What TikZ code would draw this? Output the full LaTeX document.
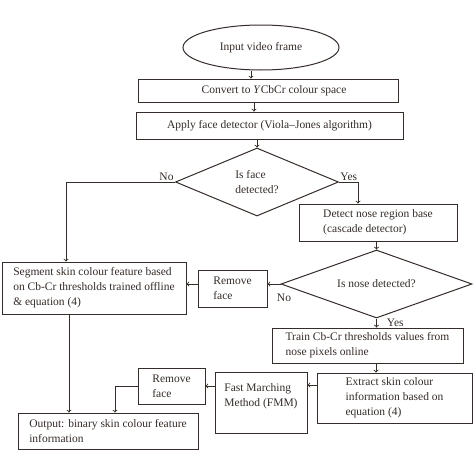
\documentclass[tikz,border=0pt]{standalone}
\usepackage{fontspec}
\setmainfont{Liberation Serif}
\usetikzlibrary{calc,shapes.geometric}
\definecolor{ink}{HTML}{352D29}
\tikzset{
  box/.style={draw=ink, text=ink, line width=1pt, rectangle, align=left, inner sep=2pt, font=\fontsize{11.5}{15}\selectfont},
  decide/.style={draw=ink, text=ink, line width=1pt, diamond, aspect=2.4, inner sep=0pt, align=left, font=\fontsize{11.5}{15}\selectfont},
  flow/.style={draw=ink, line width=0.9pt, ->},
  tag/.style={text=ink, inner sep=1pt, font=\fontsize{11.5}{13}\selectfont}
}

\begin{document}
\begin{tikzpicture}[x=1pt, y=-1pt]
        \useasboundingbox[fill=white] (0,0) rectangle (474,474);
        %
        \node[box, ellipse, minimum width=156pt, minimum height=45pt] (start) at (261,47.5) {Input video frame};
        \node[box, minimum width=260pt, minimum height=23pt] (conv) at (268,90.5) {\hspace*{12pt}Convert to \textit{Y}CbCr colour space};
        \node[box, minimum width=267pt, minimum height=27pt] (face) at (269.5,125.5) {Apply face detector (Viola–Jones algorithm)};
        \node[decide, minimum width=163pt, minimum height=68pt] (isface) at (257,182) {Is face\\detected?};
        \node[box, minimum width=158pt, minimum height=37pt] (nose) at (378,222.5) {Detect nose region base\\(cascade detector)};
        \node[decide, minimum width=191pt, minimum height=68pt] (isnose) at (376.5,284) {Is nose detected?};
        \node[box, minimum width=69pt, minimum height=37pt] (remA) at (232.5,288.5) {Remove\\face};
        \node[box, minimum width=184pt, minimum height=52pt] (seg) at (94,288) {Segment skin colour feature based\\on Cb-Cr thresholds trained offline\\\& equation (4)};
        \node[box, minimum width=191pt, minimum height=35pt] (train) at (367.5,345.5) {Train Cb-Cr thresholds values from\\nose pixels online};
        \node[box, minimum width=155pt, minimum height=50pt] (extract) at (394.5,398) {Extract skin colour\\information based on\\equation (4)};
        \node[box, minimum width=92pt, minimum height=61pt] (fmm) at (261,402.5) {Fast Marching\\Method (FMM)\\\mbox{}};
        \node[box, minimum width=67pt, minimum height=36pt] (remB) at (171.5,386) {Remove\\face};
        \node[box, minimum width=180pt, minimum height=36pt] (out) at (108,431) {Output: binary skin colour feature\\information};
        %
        \draw[flow] ([xshift=-10pt]start.south) -- ([xshift=-10pt]start.south |- conv.north);
        \draw[flow] ([xshift=-14pt]conv.south) -- ([xshift=-14pt]conv.south |- face.north);
        \draw[flow] (face.south -| isface.north) -- (isface.north);
        \draw[flow] (isface.west) -| node[tag, pos=0, above left] {No} ([xshift=-28pt]seg.north);
        \draw[flow] (isface.east) -| node[tag, pos=0, above right] {Yes} ([xshift=-20pt]nose.north);
        \draw[flow] (nose.south -| isnose.north) -- (isnose.north);
        \draw[flow] (isnose.west) -- node[tag, pos=1, below right, xshift=8pt, yshift=-9pt] {No} (isnose.west -| remA.east);
        \draw[flow] (remA.west |- isnose.west) -- (seg.east |- isnose.west);
        \draw[flow] (isnose.south) -- node[tag, midway, right, xshift=9pt] {Yes} (isnose.south |- train.north);
        \draw[flow] ([xshift=8.5pt]train.south) -- ([xshift=8.5pt]train.south |- extract.north);
        \draw[flow] ([yshift=13pt]extract.west) -- ([yshift=13pt]extract.west -| fmm.east);
        \draw[flow] (fmm.west |- remB.east) -- (remB.east);
        \draw[flow] (remB.west) -| ([xshift=7pt]out.north);
        \draw[flow] ([xshift=-25pt]seg.south) -- ([xshift=-25pt]seg.south |- out.north);
    \end{tikzpicture}
\end{document}
